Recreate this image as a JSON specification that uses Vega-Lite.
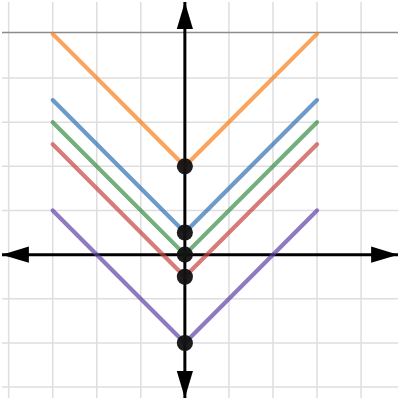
{
  "$schema": "https://vega.github.io/schema/vega-lite/v6.json",
  "width": 400,
  "height": 400,
  "autosize": {"type": "fit", "contains": "padding"},
  "padding": 0,
  "background": "white",
  "config": {"view": {"stroke": null}},
  "datasets": {
    "vgrid": [{"x": -4}, {"x": -3}, {"x": -2}, {"x": -1}, {"x": 1}, {"x": 2}, {"x": 3}, {"x": 4}],
    "hgrid": [{"y": -3}, {"y": -2}, {"y": -1}, {"y": 1}, {"y": 2}, {"y": 3}, {"y": 4}],
    "top": [{"y": 5.03}],
    "vlines": [
      {"series": "a", "x": -3, "y": 5}, {"series": "a", "x": 0, "y": 2}, {"series": "a", "x": 3, "y": 5},
      {"series": "b", "x": -3, "y": 3.5}, {"series": "b", "x": 0, "y": 0.5}, {"series": "b", "x": 3, "y": 3.5},
      {"series": "c", "x": -3, "y": 3}, {"series": "c", "x": 0, "y": 0}, {"series": "c", "x": 3, "y": 3},
      {"series": "d", "x": -3, "y": 2.5}, {"series": "d", "x": 0, "y": -0.5}, {"series": "d", "x": 3, "y": 2.5},
      {"series": "e", "x": -3, "y": 1}, {"series": "e", "x": 0, "y": -2}, {"series": "e", "x": 3, "y": 1}
    ],
    "dots": [{"x": 0, "y": 2}, {"x": 0, "y": 0.5}, {"x": 0, "y": 0}, {"x": 0, "y": -0.5}, {"x": 0, "y": -2}],
    "arrows": [
      {"x": 0, "y": 5.419, "angle": 0},
      {"x": 4.535, "y": 0, "angle": 90},
      {"x": 0, "y": -2.944, "angle": 180},
      {"x": -3.848, "y": 0, "angle": 270}
    ],
    "axisx": [{"y": 0}],
    "axisy": [{"x": 0}]
  },
  "layer": [
    {
      "data": {"name": "vgrid"},
      "mark": {"type": "rule", "color": "#dedede", "strokeWidth": 1.5},
      "encoding": {"x": {"field": "x", "type": "quantitative", "scale": {"domain": [-4.151, 4.838], "nice": false, "zero": false}, "axis": null}}
    },
    {
      "data": {"name": "hgrid"},
      "mark": {"type": "rule", "color": "#dedede", "strokeWidth": 1.5},
      "encoding": {"y": {"field": "y", "type": "quantitative", "scale": {"domain": [-3.247, 5.722], "nice": false, "zero": false}, "axis": null}}
    },
    {
      "data": {"name": "top"},
      "mark": {"type": "rule", "color": "#8c8c8c", "strokeWidth": 1.5},
      "encoding": {"y": {"field": "y", "type": "quantitative", "axis": null}}
    },
    {
      "data": {"name": "axisx"},
      "mark": {"type": "rule", "color": "black", "strokeWidth": 3},
      "encoding": {"y": {"field": "y", "type": "quantitative", "axis": null}}
    },
    {
      "data": {"name": "axisy"},
      "mark": {"type": "rule", "color": "black", "strokeWidth": 3},
      "encoding": {"x": {"field": "x", "type": "quantitative", "axis": null}}
    },
    {
      "data": {"name": "vlines"},
      "mark": {"type": "line", "strokeWidth": 4.2, "strokeOpacity": 0.7, "strokeCap": "round"},
      "encoding": {
        "x": {"field": "x", "type": "quantitative", "axis": null},
        "y": {"field": "y", "type": "quantitative", "axis": null},
        "color": {"field": "series", "type": "nominal", "scale": {"domain": ["a", "b", "c", "d", "e"], "range": ["#fa7e19", "#2d70b3", "#388c46", "#c74440", "#6042a6"]}, "legend": null},
        "order": {"field": "x", "type": "quantitative"}
      }
    },
    {
      "data": {"name": "arrows"},
      "mark": {"type": "point", "shape": "M0,-1L0.6,1L-0.6,1Z", "filled": true, "color": "black", "opacity": 1, "size": 729},
      "encoding": {
        "x": {"field": "x", "type": "quantitative", "axis": null},
        "y": {"field": "y", "type": "quantitative", "axis": null},
        "angle": {"field": "angle", "type": "quantitative", "scale": null}
      }
    },
    {
      "data": {"name": "dots"},
      "mark": {"type": "point", "shape": "circle", "filled": true, "color": "#111111", "opacity": 0.95, "size": 260},
      "encoding": {
        "x": {"field": "x", "type": "quantitative", "axis": null},
        "y": {"field": "y", "type": "quantitative", "axis": null}
      }
    }
  ]
}
